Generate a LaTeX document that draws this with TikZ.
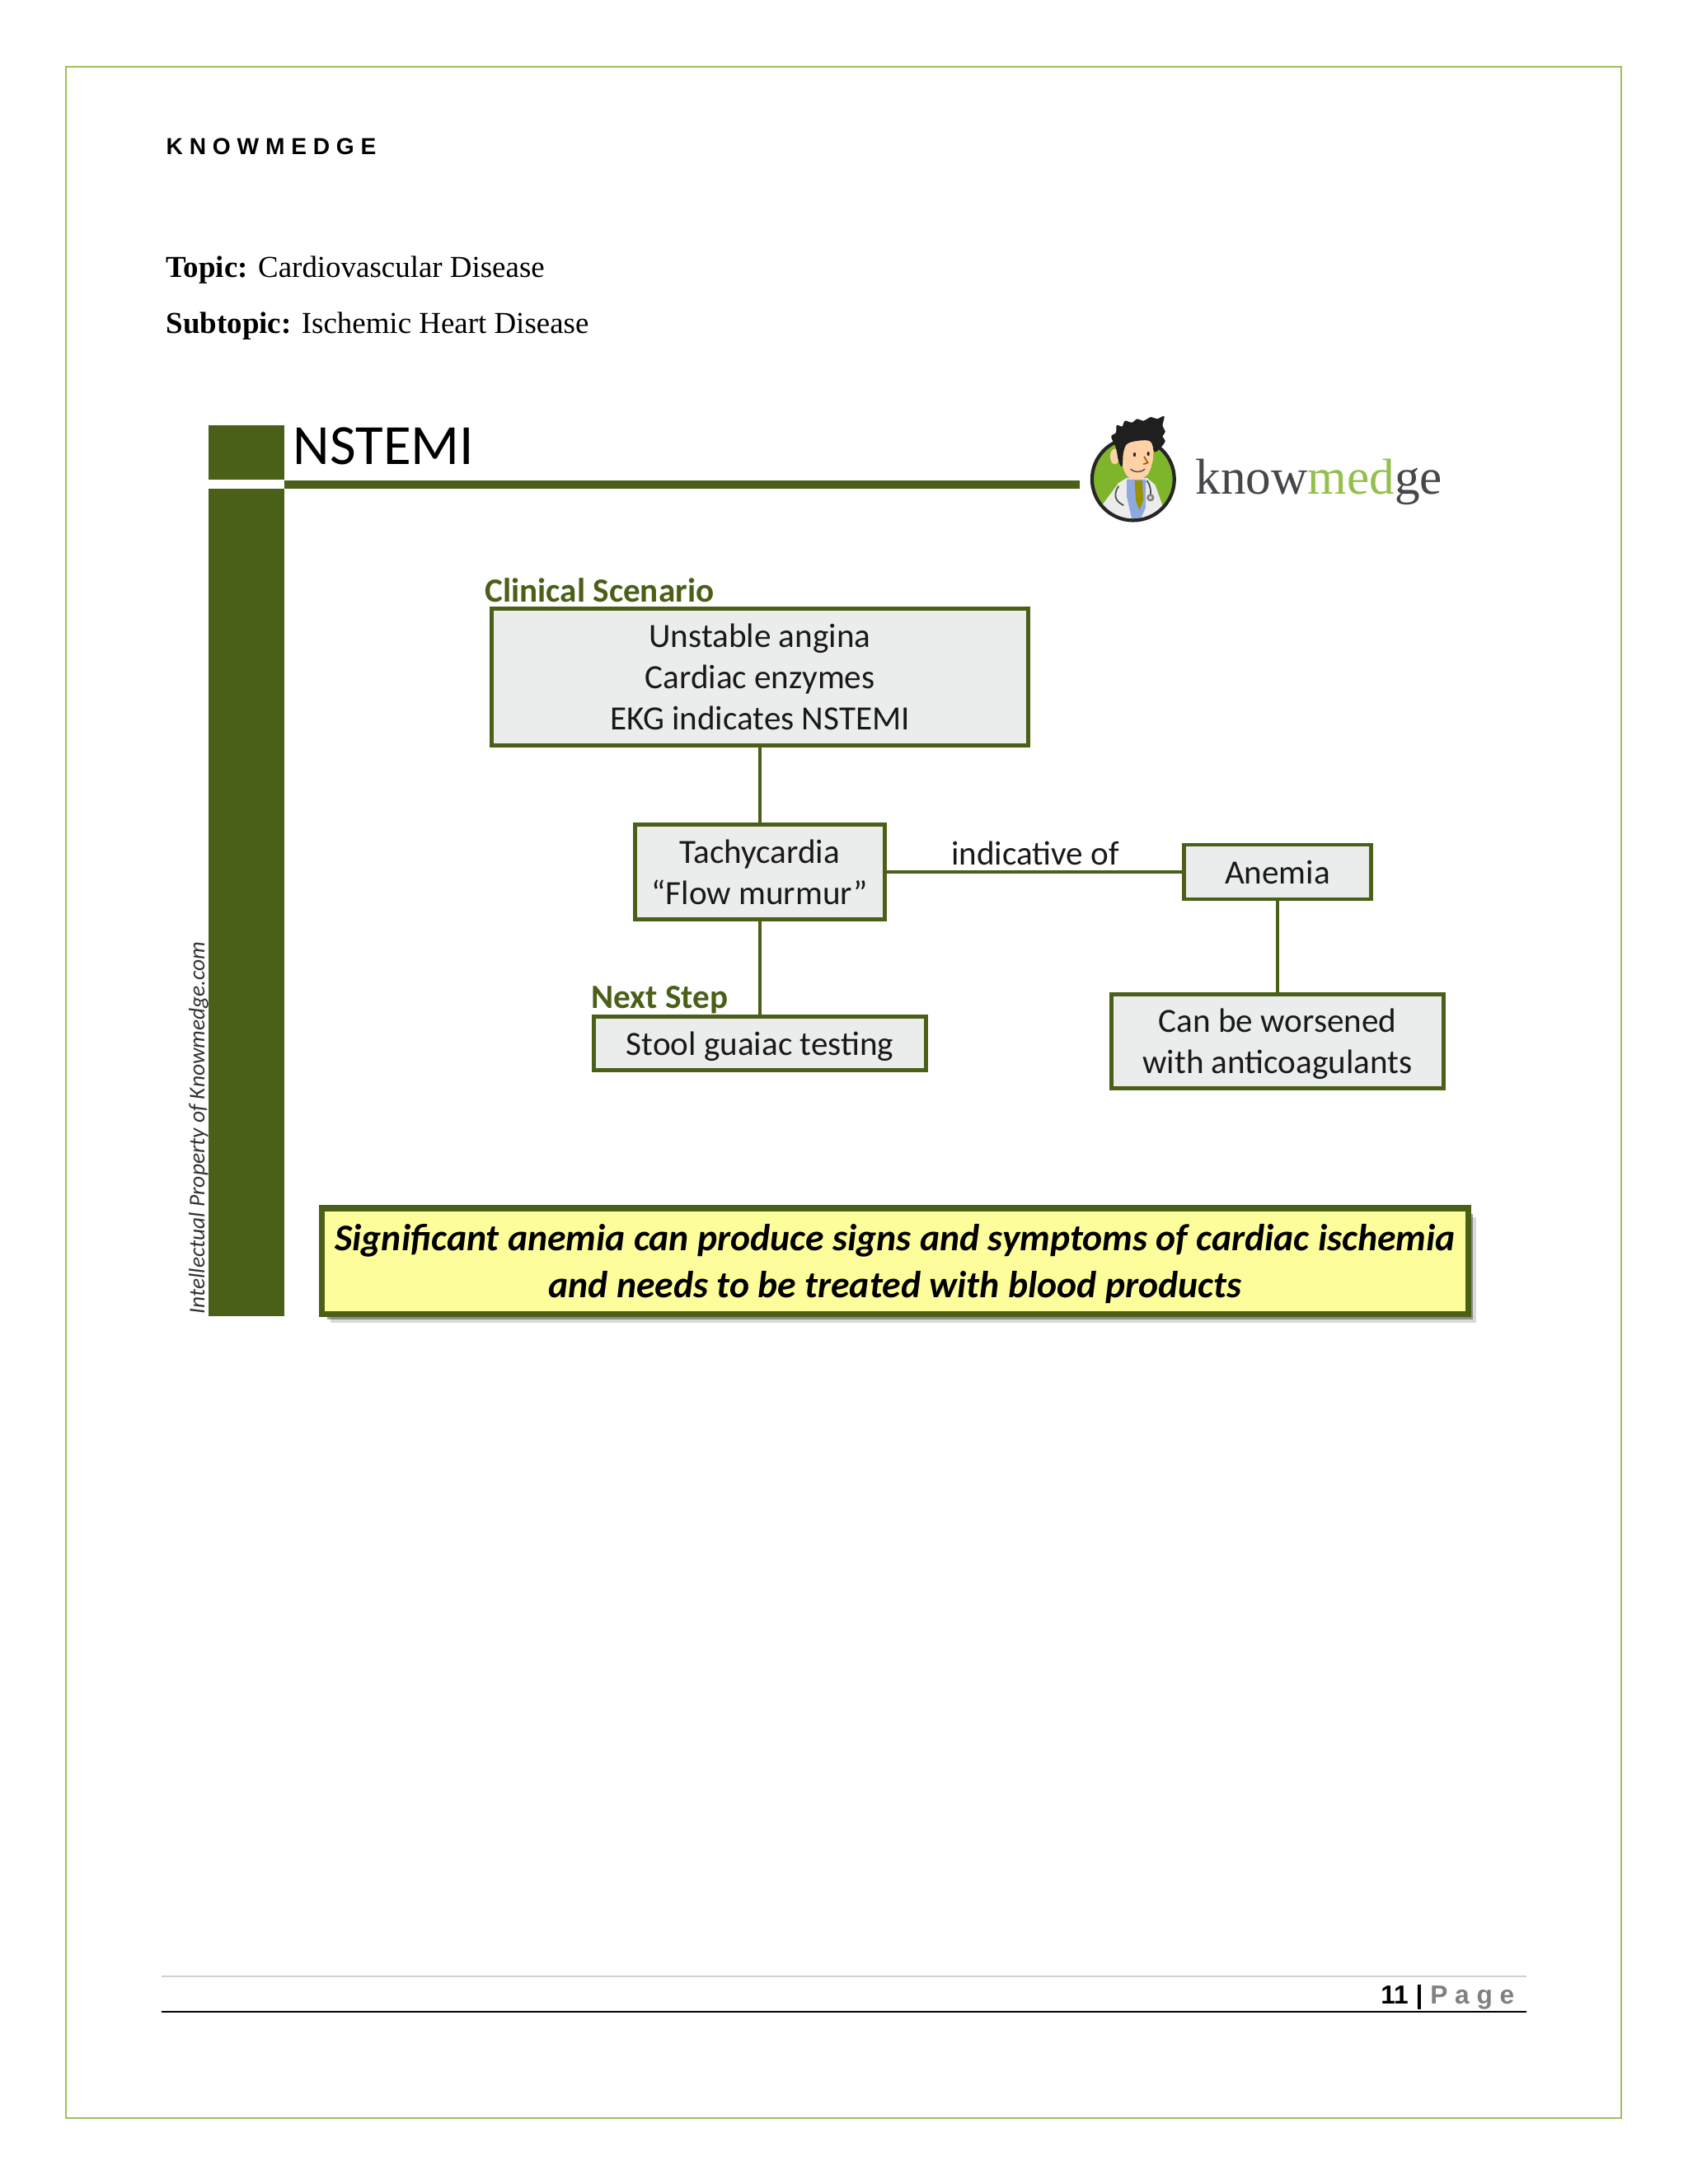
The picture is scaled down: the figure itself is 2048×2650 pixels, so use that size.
\documentclass[tikz,border=0pt]{standalone}
\usepackage{fontspec}
\setmainfont{Carlito}
\newfontfamily\serifrm{Liberation Serif}
\newfontfamily\headsans{Liberation Sans}
\usepackage{tikz}
\usetikzlibrary{positioning, shadows}
\definecolor{barGreen}{HTML}{4A5F17}
\definecolor{boxGray}{HTML}{EBECEC}
\definecolor{noteYellow}{HTML}{FDFD9B}
\definecolor{pageGreen}{HTML}{9BC25B}
\definecolor{logoGreen}{HTML}{7FB52B}
\definecolor{logoDark}{HTML}{45474A}
\tikzset{
  flowbox/.style = {draw = barGreen, fill = boxGray, line width = 1.35pt, align = center, inner sep = 0pt,
                    font = \fontsize{11.7}{14.2}\selectfont, text = black!90},
  greenlabel/.style = {text = barGreen, font = \fontsize{11.7}{14}\selectfont\bfseries, inner sep = 0pt},
  pagetext/.style = {anchor = base west, inner sep = 0pt, font = \serifrm\fontsize{10.5}{13}\selectfont},
  link/.style = {draw = barGreen, line width = 1.1pt}
}

\begin{document}
\begin{tikzpicture}[x = 0.01cm, y = -0.01cm]
  \useasboundingbox (0,0) rectangle (2048,2650);
  \draw [pageGreen, line width = 0.6pt] (80,81) rectangle (1967,2570);

  % page head
  \node [anchor = base west, inner sep = 0pt, font = \headsans\fontsize{8}{9}\selectfont\bfseries] (head) at (201,187) {K N O W M E D G E};
  \node [pagetext] (topic) at (201,336) {\textbf{Topic:} Cardiovascular Disease};
  \node [pagetext] (subtopic) at (201,404) {\textbf{Subtopic:} Ischemic Heart Disease};

  % bars
  \fill [barGreen] (253,516) rectangle (345,582);
  \fill [barGreen] (253,593) rectangle (345,1597);
  \fill [barGreen] (345,583) rectangle (1310,593);
  \node [anchor = base west, inner sep = 0pt, font = \fontsize{19.6}{22}\selectfont] (title) at (355,563) {NSTEMI};
  \node [rotate = 90, anchor = base west, inner sep = 0pt, font = \fontsize{7.8}{9}\selectfont\itshape, text = black!80] (owner) at (248,1595) {Intellectual Property of Knowmedge.com};

  % logo
  \begin{scope}[shift = {(1280,480)}, x = 0.00333cm, y = -0.00333cm]
    \draw [logoGreen!95!black, fill = logoGreen] (285,305) circle (150);
    \begin{scope}
      \clip (285,305) circle (150);
      \fill [gray!15] (175,395) -- (232,318) -- (262,300) -- (335,300) -- (365,325) -- (390,395) -- (390,470) -- (175,470) -- cycle;
      \fill [cyan!45!blue!45] (262,305) -- (332,305) -- (330,410) -- (312,450) -- (280,450) -- (262,370) -- cycle;
      \fill [olive!90!yellow] (290,310) -- (318,310) -- (322,380) -- (308,418) -- (295,385) -- cycle;
      \draw [black!70, line width = 0.5pt] (232,330) .. controls (205,370) and (230,390) .. (250,400);
      \draw [black!70, line width = 0.5pt] (335,310) .. controls (350,330) and (350,350) .. (348,372);
    \end{scope}
    \draw [black!85, line width = 1.2pt] (285,305) circle (150);
    \fill [orange!35!white] (218,222) ellipse (17 and 28);
    \fill [orange!35!white] plot [smooth cycle] coordinates {(242,170) (345,165) (358,225) (340,285) (305,305) (265,295) (245,250)};
    \fill [black!88] plot [smooth cycle, tension = 0.6] coordinates {(205,150) (222,135) (225,108) (245,112) (255,92) (280,98) (300,85) (322,92) (350,78) (372,85) (398,75) (392,110) (402,130) (392,150) (402,165) (385,190) (362,205) (345,165) (270,172) (250,205) (245,258) (232,240) (222,190)};
    \fill [black!85] (290,215) ellipse (5 and 8) (340,212) ellipse (5 and 8);
    \draw [black!70, line width = 0.4pt] (275,268) .. controls (290,282) and (315,280) .. (328,268);
    \draw [orange!70!black, line width = 0.5pt] (325,222) -- (338,245) -- (322,250);
    \draw [gray, fill = gray!30, line width = 0.7pt] (348,372) circle (10);
  \end{scope}
  \node [anchor = base west, inner sep = 0pt, font = \serifrm\fontsize{17.4}{20}\selectfont] (brand) at (1450,599)
        {\textcolor{logoDark}{know}\textcolor{logoGreen!85!white}{med}\textcolor{logoDark}{ge}};

  % flow
  \node [flowbox, minimum width = 6.51cm, minimum height = 1.66cm] (scenario) at (922,821.5) {Unstable angina\\Cardiac enzymes\\EKG indicates NSTEMI};
  \node [flowbox, minimum width = 3.03cm, minimum height = 1.15cm] (tachy) at (922,1058) {Tachycardia\\“Flow murmur”};
  \node [flowbox, minimum width = 2.27cm, minimum height = 0.66cm] (anemia) at (1550,1058) {Anemia};
  \node [flowbox, text depth = 0pt, minimum width = 4.03cm, minimum height = 0.65cm] (stool) at (922,1266) {Stool guaiac testing};
  \node [flowbox, text depth = 0pt, minimum width = 4.03cm, minimum height = 1.14cm] (worsen) at (1550,1263.5) {Can be worsened\\with anticoagulants};
  \node [greenlabel, anchor = base west] (scenariolabel) at (588,730) {Clinical Scenario};
  \node [greenlabel, anchor = base west] (nextlabel) at (717,1223) {Next Step};
  \node [inner sep = 0pt, font = \fontsize{11.7}{14}\selectfont, text = black!90] (indicative) at (1256,1035) {indicative of};

  \draw [link] (scenario) -- (tachy);
  \draw [link] (tachy) -- (stool);
  \draw [link] (tachy) -- (anemia);
  \draw [link] (anemia) -- (worsen);

  % note
  \node [draw = barGreen, fill = noteYellow, line width = 2pt, align = center, inner sep = 0pt,
         minimum width = 13.9cm, minimum height = 1.28cm, text depth = 0pt,
         drop shadow = {shadow xshift = 0.10cm, shadow yshift = -0.11cm, fill = black, opacity = 0.15},
         drop shadow = {shadow xshift = 0.06cm, shadow yshift = -0.07cm, fill = black, opacity = 0.35},
         font = \fontsize{13}{16}\selectfont\bfseries\itshape] (note) at (1086,1530)
        {Significant anemia can produce signs and symptoms of cardiac ischemia\\and needs to be treated with blood products};

  % page foot
  \draw [black!18, line width = 0.6pt] (196,2398) coordinate (foota) -- (1852,2398) coordinate (footb);
  \draw [black, line width = 0.8pt] (196,2441) coordinate (footc) -- (1852,2441) coordinate (footd);
  \node [anchor = base east, inner sep = 0pt, font = \headsans\fontsize{9}{10}\selectfont\bfseries] (pageno) at (1838,2431) {11 | \textcolor{black!50}{P a g e}};
\end{tikzpicture}
\end{document}
